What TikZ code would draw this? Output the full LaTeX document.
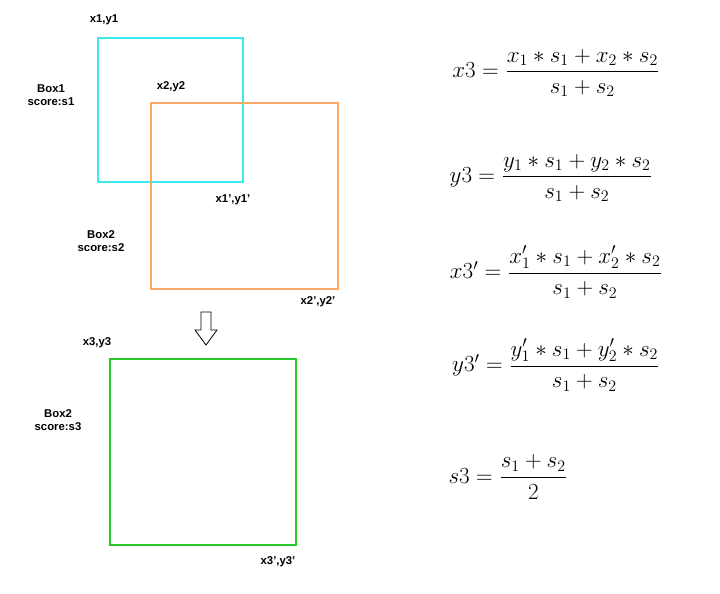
\documentclass[tikz,border=0pt]{standalone}
\usepackage{amsmath}
\usepackage{fontspec}
\setsansfont{Liberation Sans}
\begin{document}
\begin{tikzpicture}[x=0.75pt,y=-0.75pt,
  lbl/.style={font=\sffamily\bfseries\fontsize{8.5}{10}\selectfont,align=center,inner sep=1pt},
  eq/.style={font=\fontsize{16.5}{19}\selectfont,inner sep=0pt}]
\useasboundingbox (0,0) rectangle (720,593);
\definecolor{cy}{RGB}{60,235,240}
\definecolor{or}{RGB}{250,170,100}
\definecolor{gr}{RGB}{40,200,40}
\draw[cy,line width=1pt] (98,38) rectangle (243,182);
\draw[or,line width=1pt] (151,103) rectangle (338,289);
\draw[gr,line width=1pt] (110,359) rectangle (296,545);
\draw[line width=0.6pt] (201,312) -- (211,312) -- (211,330) -- (217,330) -- (206,345) -- (195,330) -- (201,330) -- cycle;
\node[lbl] (a) at (104,20) {x1,y1};
\node[lbl] (b) at (51,95) {Box1\\score:s1};
\node[lbl] (c) at (171,87) {x2,y2};
\node[lbl] (d) at (233,200) {x1',y1'};
\node[lbl] (e) at (101,241) {Box2\\score:s2};
\node[lbl] (f) at (318,302) {x2',y2'};
\node[lbl] (g) at (97,343) {x3,y3};
\node[lbl] (h) at (58,420) {Box2\\score:s3};
\node[lbl] (i) at (278,562) {x3',y3'};
\node[eq] (e1) at (556,73) {$x3=\dfrac{x_1*s_1+x_2*s_2}{s_1+s_2}$};
\node[eq] (e2) at (551,178) {$y3=\dfrac{y_1*s_1+y_2*s_2}{s_1+s_2}$};
\node[eq] (e3) at (556,272) {$x3'=\dfrac{x_1'*s_1+x_2'*s_2}{s_1+s_2}$};
\node[eq] (e4) at (556,365) {$y3'=\dfrac{y_1'*s_1+y_2'*s_2}{s_1+s_2}$};
\node[eq] (e5) at (508,477) {$s3=\dfrac{s_1+s_2}{2}$};
\end{tikzpicture}
\end{document}
